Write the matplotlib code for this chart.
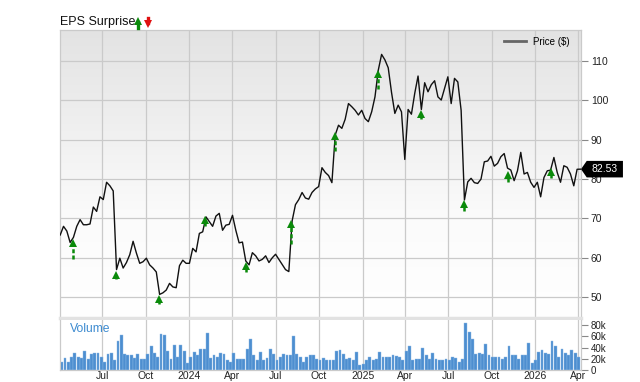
import numpy as np
import pandas as pd
import matplotlib
matplotlib.use("Agg")
import matplotlib.pyplot as plt
import matplotlib.dates as mdates
from matplotlib.colors import LinearSegmentedColormap
from matplotlib.patches import Polygon
import matplotlib.transforms as mtransforms

plt.rcParams['font.family'] = ['Liberation Sans', 'DejaVu Sans']

# weekly closing price ($), first week starting 2023-04-03
start_date = '2023-04-03'
prices = [
    65.8, 68.0, 66.8, 63.9, 65.2, 68.0, 69.7, 68.4, 68.4, 68.6,
    72.9, 71.8, 75.5, 74.8, 79.2, 78.3, 77.0, 57.0, 59.9, 57.4,
    58.8, 60.8, 64.2, 61.2, 58.6, 59.0, 59.9, 58.2, 57.4, 56.4,
    50.7, 51.1, 51.8, 53.5, 52.6, 52.4, 58.0, 59.4, 58.6, 58.6,
    62.4, 61.5, 66.2, 66.6, 70.4, 69.2, 68.0, 70.6, 71.3, 67.0,
    68.3, 68.5, 70.8, 67.0, 63.8, 64.0, 59.2, 58.2, 61.3, 60.5,
    59.2, 59.6, 60.5, 58.8, 60.0, 60.9, 59.6, 58.3, 57.0, 56.5,
    69.4, 73.5, 74.8, 76.6, 75.2, 74.9, 76.6, 77.5, 78.1, 82.9,
    81.7, 80.9, 79.1, 91.2, 93.7, 92.9, 95.2, 99.2, 98.4, 97.5,
    96.3, 97.5, 95.4, 94.6, 97.1, 100.9, 107.7, 111.7, 110.3, 108.3,
    102.0, 96.7, 98.8, 97.1, 85.0, 97.7, 96.5, 101.8, 106.2, 97.7,
    104.5, 102.2, 104.0, 105.0, 100.9, 100.1, 103.1, 106.0, 99.2, 105.6,
    104.7, 97.5, 74.7, 79.3, 80.2, 79.1, 78.9, 80.0, 84.4, 84.6,
    85.8, 83.3, 84.0, 85.7, 86.5, 82.8, 82.3, 79.6, 82.1, 86.8,
    81.3, 81.7, 79.2, 77.9, 79.2, 75.5, 80.4, 82.1, 82.3, 85.5,
    81.7, 79.2, 83.4, 83.0, 81.3, 78.3, 82.5, 82.53,
]
last_price = 82.53

# weekly volume (thousands)
volume_k = [
    13.6, 21, 15, 23, 31, 23, 21, 33, 20, 28,
    31, 30, 23, 14, 29, 30, 18, 51, 63, 28,
    26, 27, 21, 28, 20, 20, 28, 42, 30, 24,
    64, 63, 33, 20, 45, 24, 45, 33, 12, 23,
    32, 27, 38, 38, 65, 21, 27, 24, 30, 28,
    18, 15, 30, 20, 20, 20, 38, 55, 26, 18,
    32, 17, 21, 38, 28, 17, 24, 29, 26, 26,
    60, 28, 24, 15, 23, 27, 27, 20,
    17, 21, 18, 17, 18, 34, 36, 28, 20, 21,
    18, 32, 9.5, 11, 17, 23, 17, 20, 32, 23,
    24, 23, 26, 25, 23, 18, 34, 42, 17, 20,
    20, 39, 26, 20, 30, 20, 18, 18, 20, 17,
    24, 21, 14, 20, 84, 67, 56, 29, 30, 29,
    46, 26, 23, 23, 23, 20, 24, 42, 26, 26,
    20, 26, 26, 48, 12, 18, 32, 35, 30, 28,
    51, 42, 23, 37, 31, 27, 36, 31, 23,
]

# EPS surprise arrows: date, arrow tip price, arrow tail price
eps_dates = ['2023-04-29', '2023-07-29', '2023-10-29', '2024-02-02', '2024-04-29', '2024-08-03',
             '2024-11-04', '2025-02-03', '2025-05-04', '2025-08-04', '2025-11-04', '2026-02-03']
eps_tip = [64.3, 56.2, 50.1, 70.2, 58.4, 69.3, 91.6, 107.4, 97.1, 74.2, 81.6, 82.5]
eps_tail = [59.6, 54.5, 48.2, 68.1, 56.4, 63.5, 87.2, 102.8, 95.2, 71.9, 79.3, 80.4]

price_ticks = [50, 60, 70, 80, 90, 100, 110]
vol_ticks = [0, 20, 40, 60, 80]

dates = pd.date_range(start_date, periods=len(prices), freq='7D')
vol_dates = pd.date_range(start_date, periods=len(volume_k), freq='7D') + pd.Timedelta(days=3)
eps_d = pd.to_datetime(eps_dates)

GRID = '#cacaca'
GREEN = '#0a8a0a'

fig = plt.figure(figsize=(6.4, 3.82), dpi=100)
ax = fig.add_axes([60/640, 1-318/382, 521/640, 288/382])
axv = fig.add_axes([60/640, 1-370/382, 521/640, 50/382], sharex=ax)

# gradient background of price panel
cmap = LinearSegmentedColormap.from_list('bg', [(0, '#ffffff'), (0.35, '#fbfbfb'), (1, '#e3e3e3')])
ax.imshow(np.linspace(0, 1, 256).reshape(-1, 1), cmap=cmap, origin='lower',
          extent=[0, 1, 0, 1], transform=ax.transAxes, aspect='auto', zorder=0)

ax.plot(dates, prices, color='#111111', lw=1.0, zorder=3, label='Price ($)')

# eps arrows
ax.vlines(eps_d, eps_tail, np.array(eps_tip) - 0.8, colors=GREEN, lw=1.8,
          linestyles=(0, (1.6, 0.9)), zorder=4)
ax.plot(eps_d, np.array(eps_tip) - 0.6, ls='none', marker='^', ms=5.8, color=GREEN,
        markeredgewidth=0, zorder=5)

ax.set_ylim(44.7, 117.9)
ax.set_xlim(pd.Timestamp('2023-04-02 14:00'), pd.Timestamp('2026-04-07 06:00'))
ax.yaxis.tick_right()
ax.set_yticks(price_ticks)
ax.tick_params(axis='y', labelsize=7.5, labelcolor='#222222', color='#888888', length=5, width=0.8, pad=2)
ax.tick_params(axis='x', length=0, labelbottom=False)
ax.grid(True, color=GRID, lw=0.9, zorder=1)
ax.set_axisbelow(True)
for s in ax.spines.values():
    s.set_color(GRID)
    s.set_linewidth(0.9)
ax.spines['bottom'].set_color('#e2e2e2')
ax.spines['bottom'].set_linewidth(2.5)

leg = ax.legend(loc='upper right', frameon=False, fontsize=7, handlelength=2.2,
                borderaxespad=0.3, bbox_to_anchor=(0.992, 1.0))
for h in leg.get_lines():
    h.set_color('#666666')
    h.set_linewidth(2)

# last price tag
tr = mtransforms.blended_transform_factory(ax.transAxes, ax.transData)
tag = Polygon([(1.0, last_price), (1.011, last_price + 2.1), (1.0805, last_price + 2.1),
               (1.0805, last_price - 2.1), (1.011, last_price - 2.1)],
              closed=True, transform=tr, facecolor='black', edgecolor='none',
              clip_on=False, zorder=10)
ax.add_patch(tag)
ax.text(1.046, last_price, f'{last_price:.2f}', transform=tr, color='white',
        fontsize=7.5, ha='center', va='center', zorder=11, clip_on=False)

# volume panel
axv.bar(vol_dates, np.array(volume_k) * 1000, width=6.0, color='#4d8ed0',
        edgecolor='#8dbbe6', linewidth=0.3, zorder=2)
axv.set_ylim(0, 88900)
axv.yaxis.tick_right()
axv.set_yticks([v * 1000 for v in vol_ticks])
axv.set_yticklabels(['0' if v == 0 else f'{v}k' for v in vol_ticks])
axv.tick_params(axis='y', labelsize=7, labelcolor='#222222', color='#888888', length=5, width=0.8, pad=2)
axv.grid(True, axis='x', color=GRID, lw=0.9)
axv.set_axisbelow(True)
for s in axv.spines.values():
    s.set_color(GRID)
    s.set_linewidth(0.9)
axv.spines['top'].set_visible(False)
axv.text(0.019, 0.82, 'Volume', transform=axv.transAxes, color='#3d8bd0', fontsize=8.7,
         ha='left', va='center')

axv.xaxis.set_major_locator(mdates.MonthLocator(bymonth=[1, 4, 7, 10]))
axv.xaxis.set_major_formatter(plt.FuncFormatter(
    lambda x, pos: mdates.num2date(x).strftime('%Y') if mdates.num2date(x).month == 1
    else mdates.num2date(x).strftime('%b')))
axv.tick_params(axis='x', length=0, labelsize=7.5, labelcolor='#222222', pad=0.5)

# header
fig.text(60/640, 1-22/382, 'EPS Surprise', fontsize=9, color='#111111', ha='left', va='center')
fig.add_artist(plt.Line2D([138/640, 138/640], [1-27.5/382, 1-22/382], color=GREEN, lw=2.4))
fig.add_artist(plt.Line2D([138/640], [1-21/382], marker='^', ms=6.2, color=GREEN, markeredgewidth=0))
fig.add_artist(plt.Line2D([148/640, 148/640], [1-17.5/382, 1-23/382], color='#e01010', lw=2.4))
fig.add_artist(plt.Line2D([148/640], [1-24/382], marker='v', ms=6.2, color='#e01010', markeredgewidth=0))

fig.savefig('out.png', dpi=100)
